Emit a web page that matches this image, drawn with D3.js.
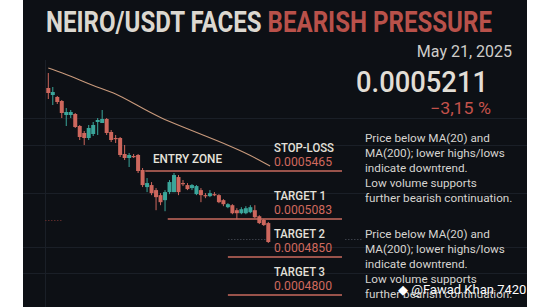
<!DOCTYPE html>
<html><head><meta charset="utf-8">
<script src="https://cdn.jsdelivr.net/npm/d3@7"></script>
<style>
html,body{margin:0;padding:0;background:#ffffff;}
svg{display:block;}
</style></head>
<body>
<svg id="c" width="547" height="307"></svg>
<script>
// ---- data (prices in units of 1e-7 USDT) ----
const candleOpen  = [6129,6073,6057,6025,5913,5913,5921,5825,5769,5729,5761,5857,5849,5881,5777,5729,5729,5601,5569,5585,5593,5473,5337,5353,5313,5273,5233,5297,5297,5417,5369,5353,5329,5281,5313,5273,5265,5281,5273,5233,5177,5193,5153,5129,5129,5137,5153,5105,5077,5058];
const candleClose = [6089,6097,6017,5929,5937,5937,5817,5737,5729,5809,5833,5873,5881,5769,5713,5721,5593,5569,5593,5577,5465,5353,5369,5289,5257,5217,5297,5377,5433,5297,5361,5321,5353,5345,5273,5265,5289,5277,5217,5201,5201,5129,5129,5161,5169,5177,5097,5058,5046,4942];
const candleHigh  = [6249,6137,6065,6033,5969,5953,5929,5833,5785,5833,5857,5889,5953,5889,5793,5753,5737,5673,5609,5601,5601,5489,5409,5377,5329,5289,5313,5393,5449,5433,5393,5369,5361,5353,5329,5289,5313,5297,5281,5241,5209,5201,5169,5177,5185,5193,5193,5113,5083,5065];
const candleLow   = [6041,5993,6001,5889,5825,5889,5809,5713,5673,5713,5745,5753,5849,5753,5697,5689,5577,5553,5497,5569,5449,5337,5297,5273,5153,5193,5145,5281,5297,5273,5345,5313,5313,5273,5217,5249,5257,5265,5209,5185,5169,5121,5081,5121,5121,5129,5089,5052,5040,4936];
const maIndex = [0,5,10,15,20,25,30,35,40,45,49.4];
const maValue = [6289,6225,6145,6089,5985,5889,5817,5745,5673,5593,5505];

const levelNames  = ["STOP-LOSS","TARGET 1","TARGET 2","TARGET 3"];
const levelValues = [5465,5083,4850,4800];
const levelLabels = ["0.0005465","0.0005083","0.0004850","0.0004800"];
const levelFrom   = [21.6,26.6,40,40];

const titleWhite = "NEIRO/USDT FACES ";
const titleRed = "BEARISH PRESSURE";
const dateText = "May 21, 2025";
const priceText = "0.0005211";
const changeText = "\u22123,15 %";
const entryText = "ENTRY ZONE";
const note1 = ["Price below MA(20) and","MA(200); lower highs/lows","indicate downtrend.","Low volume supports","further bearish continuation."];
const note2 = ["Price below MA(20) and","MA(200); lower highs/lows","indicate downtrend.","Low volume supports","further bearish continuation."];
const watermark = "@Fawad Khan 7420";

// ---- drawing ----
const svg = d3.select("#c");
const W = 547, H = 307;
svg.append("rect").attr("x",23).attr("y",0).attr("width",504).attr("height",H).attr("fill","#0d1015");

// piecewise price scale (levels anchored)
const y = d3.scaleLinear()
  .domain([4800,4850,5083,5465,6233])
  .range([295,257,219,171,75]);
const n = candleOpen.length;
const x = d3.scaleLinear().domain([0,n-1]).range([48.3,268.3]);

// grid
const g = svg.append("g");
const gridY = [118,145,193,247,273];
g.selectAll("line.gy").data(gridY).join("line")
  .attr("x1",23).attr("x2",527).attr("y1",d=>d+0.5).attr("y2",d=>d+0.5)
  .attr("stroke","#1a1f27").attr("stroke-width",1);
g.append("line").attr("x1",45.5).attr("x2",45.5).attr("y1",60).attr("y2",H).attr("stroke","#1a1f27");
g.append("line").attr("x1",45).attr("x2",62).attr("y1",220.5).attr("y2",220.5)
  .attr("stroke","#5a2a2a").attr("stroke-dasharray","1.5,1.5");
g.append("line").attr("x1",228).attr("x2",270).attr("y1",239.5).attr("y2",239.5)
  .attr("stroke","#3a3f48").attr("stroke-dasharray","1.5,1.5");
g.append("line").attr("x1",345).attr("x2",362).attr("y1",239.5).attr("y2",239.5)
  .attr("stroke","#3a3f48").attr("stroke-dasharray","1.5,1.5");

// MA line
const maData = maIndex.map((d,i)=>[d,maValue[i]]);
svg.append("path").datum(maData)
  .attr("d", d3.line().x(d=>x(d[0])).y(d=>y(d[1])).curve(d3.curveBasis))
  .attr("fill","none").attr("stroke","#c99a7c").attr("stroke-width",1.1);

// candles
const up = "#3aa59a", down = "#cd675d";
const cg = svg.append("g");
const idx = d3.range(n);
cg.selectAll("line.w").data(idx).join("line")
  .attr("x1",i=>x(i)).attr("x2",i=>x(i))
  .attr("y1",i=>y(candleHigh[i])).attr("y2",i=>y(candleLow[i]))
  .attr("stroke",i=>candleClose[i]>candleOpen[i]?up:down).attr("stroke-width",1);
cg.selectAll("rect.b").data(idx).join("rect")
  .attr("x",i=>x(i)-2).attr("width",4)
  .attr("y",i=>y(Math.max(candleOpen[i],candleClose[i])))
  .attr("height",i=>Math.max(1.2, Math.abs(y(candleOpen[i])-y(candleClose[i]))))
  .attr("fill",i=>candleClose[i]>candleOpen[i]?up:down);

// level lines
const lv = svg.append("g");
const nameW = [60,52,51,51];
levelValues.forEach((v,k)=>{
  lv.append("line").attr("x1",x(levelFrom[k])).attr("x2",342)
    .attr("y1",y(v)).attr("y2",y(v))
    .attr("stroke","#c86a5e").attr("stroke-width",1.6);
  lv.append("text").attr("x",274).attr("y",y(v)-19)
    .attr("font-family","Roboto, 'DejaVu Sans', sans-serif").attr("font-size",13).attr("font-weight",500)
    .attr("fill","#e4e1da").attr("textLength",nameW[k]).attr("lengthAdjust","spacingAndGlyphs").text(levelNames[k]);
  lv.append("text").attr("x",274).attr("y",y(v)-5)
    .attr("font-family","Roboto, 'DejaVu Sans', sans-serif").attr("font-size",13)
    .attr("fill","#d0695d").attr("textLength",58).attr("lengthAdjust","spacingAndGlyphs").text(levelLabels[k]);
});

svg.append("text").attr("x",153).attr("y",162.5)
  .attr("font-family","Roboto, sans-serif").attr("font-size",12.5).attr("font-weight",500)
  .attr("fill","#e6e3dc").attr("textLength",69).attr("lengthAdjust","spacingAndGlyphs").text(entryText);

// title (one text, two coloured parts)
const tt = svg.append("text").attr("x",46).attr("y",31.5)
  .attr("font-family","Roboto, 'Liberation Sans', sans-serif").attr("font-size",29).attr("font-weight",700)
  .attr("textLength",446).attr("lengthAdjust","spacingAndGlyphs");
tt.append("tspan").attr("fill","#dcd8d0").text(titleWhite);
tt.append("tspan").attr("fill","#b9514a").text(titleRed);

// right header
svg.append("text").attr("x",512).attr("y",56.7).attr("text-anchor","end")
  .attr("font-family","Roboto, sans-serif").attr("font-size",16).attr("fill","#cfcdca").text(dateText);
svg.append("text").attr("x",356).attr("y",91.7)
  .attr("font-family","Roboto, sans-serif").attr("font-size",29.5).attr("font-weight",500)
  .attr("fill","#e2ded6").attr("textLength",132).attr("lengthAdjust","spacingAndGlyphs").text(priceText);
svg.append("text").attr("x",430).attr("y",114)
  .attr("font-family","Roboto, sans-serif").attr("font-size",16).attr("fill","#c4524b")
  .attr("textLength",61).attr("lengthAdjust","spacingAndGlyphs").text(changeText);

// notes
function note(lines, y0){
  const t = svg.append("text").attr("font-family","Roboto, sans-serif").attr("font-size",11.7).attr("fill","#d6d4d0");
  lines.forEach((l,i)=>t.append("tspan").attr("x",365).attr("y",y0+i*15).text(l));
}
note(note1,141.5);
note(note2,237.5);

// watermark
svg.append("text").attr("x",398).attr("y",293.5)
  .attr("font-family","Roboto, sans-serif").attr("font-size",13).attr("fill","#ffffff")
  .attr("stroke","#000").attr("stroke-width",0.3).attr("paint-order","stroke")
  .text("\u25C6 " + watermark);
</script>
</body></html>
